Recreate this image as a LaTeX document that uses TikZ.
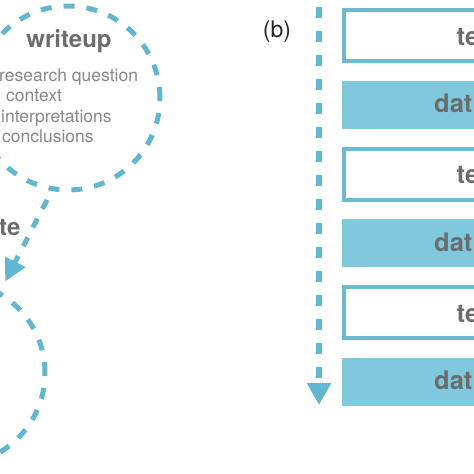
\documentclass[tikz,border=0pt]{standalone}
\usepackage{fontspec}
\setmainfont{TeX Gyre Heros}
\usepackage{xcolor}
\usepackage{tikz}
\usetikzlibrary{shapes,arrows.meta,positioning,calc}
\definecolor{flowblue}{RGB}{98,182,207}
\definecolor{boxblue}{RGB}{108,186,210}
\definecolor{datafill}{RGB}{128,201,221}
\definecolor{headgray}{RGB}{108,108,108}
\definecolor{itemgray}{RGB}{135,135,135}

\begin{document}
\begin{tikzpicture}[
    x=1pt, y=-1pt,
    ring/.style={circle, draw=flowblue, line width=5pt, dash pattern=on 11pt off 12pt,
                 minimum size=184pt, inner sep=0pt},
    head/.style={inner sep=0pt, text=headgray, font=\fontsize{24}{28}\selectfont\bfseries},
    boxlbl/.style={inner sep=0pt, anchor=base west, text=headgray, font=\fontsize{25.5}{30}\selectfont\bfseries},
    item/.style={inner sep=0pt, anchor=base west, text=itemgray, font=\fontsize{17.5}{20}\selectfont},
    textbox/.style={rectangle, draw=boxblue, line width=4pt, fill=white, anchor=west,
                    minimum width=300pt, minimum height=51pt},
    databox/.style={rectangle, fill=datafill, anchor=west,
                    minimum width=300pt, minimum height=48pt},
    flow/.style={draw=flowblue, line width=5pt, dash pattern=on 10pt off 11pt,
                 -{Triangle[length=22pt, width=22pt]}},
    vflow/.style={draw=flowblue, line width=6pt, dash pattern=on 11pt off 13pt,
                  -{Triangle[length=22pt, width=23pt]}}
]
    \useasboundingbox (0,0) rectangle (474,474);
    \clip (0,0) rectangle (474,474);

    % (a) - cycle of rings, cut at the left
    \node[ring] (writeup) at (68,98) {};
    \node[ring] (lowring) at (-47,373) {};
    \node[head, anchor=base] (wtitle) at (69,47) {writeup};
    \node[item] (q1) at (-1,81.5) {research question};
    \node[item] (q2) at (6,101.8) {context};
    \node[item] (q3) at (1,122.1) {interpretations};
    \node[item] (q4) at (2,142.4) {conclusions};
    \node[head, anchor=base west] (ltitle) at (-1,235) {te};

    \draw[flow, shorten <=10pt, shorten >=11pt] (writeup.-100) -- (lowring.60);

    % (b) - linear order of text and data
    \node[font=\fontsize{23}{26}\selectfont, text=black!85, anchor=base] (blabel) at (277,37.5) {(b)};

    \coordinate (flowtop) at (319,7);
    \coordinate (flowbot) at (319,405);
    \draw[vflow] (flowtop) -- (flowbot);

    \node[textbox] (t1) at (342,35.5) {};
    \node[databox] (d1) at (342,104.75) {};
    \node[textbox] (t2) at (342,174) {};
    \node[databox] (d2) at (342,243.25) {};
    \node[textbox] (t3) at (342,312.5) {};
    \node[databox] (d3) at (342,381.75) {};

    % box labels
    \node[boxlbl] (t1lbl) at (456.5,45) {te};
    \node[boxlbl] (d1lbl) at (434,112.5) {dat};
    \node[boxlbl] (t2lbl) at (456.5,183.5) {te};
    \node[boxlbl] (d2lbl) at (434,251) {dat};
    \node[boxlbl] (t3lbl) at (456.5,322) {te};
    \node[boxlbl] (d3lbl) at (434,389.5) {dat};

\end{tikzpicture}
\end{document}
